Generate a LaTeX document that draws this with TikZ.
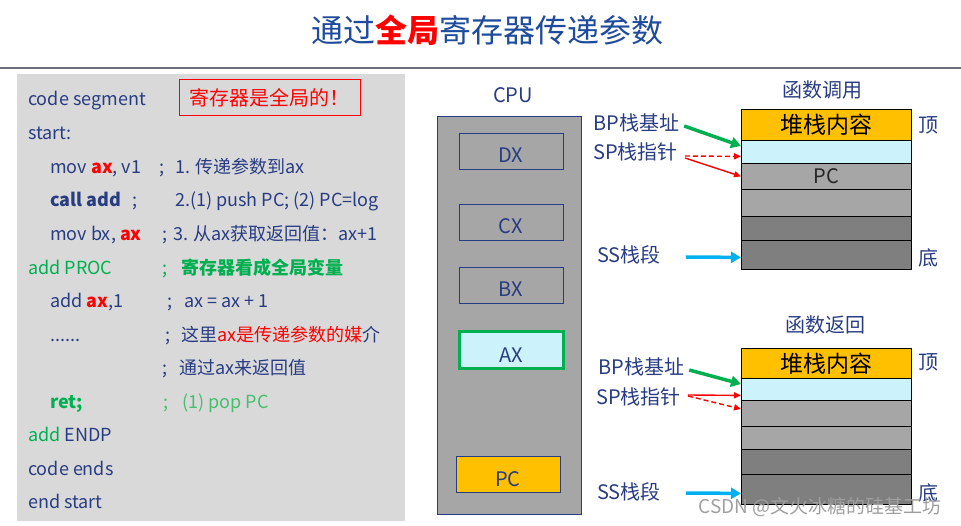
\documentclass[tikz,border=0pt]{standalone}
\usepackage{fontspec}
\setmainfont{Noto Sans CJK SC}
\usetikzlibrary{arrows.meta,positioning}

\definecolor{txtblue}{RGB}{40,60,130}
\definecolor{ttlblue}{RGB}{30,75,155}
\definecolor{okgreen}{RGB}{0,176,80}
\definecolor{ltgreen}{RGB}{70,190,110}
\definecolor{panelgray}{RGB}{217,217,217}
\definecolor{midgray}{RGB}{166,166,166}
\definecolor{darkgray}{RGB}{127,127,127}
\definecolor{pcorange}{RGB}{255,192,0}
\definecolor{axcyan}{RGB}{204,242,252}
\definecolor{arrowblue}{RGB}{0,176,240}
\definecolor{rulegray}{RGB}{107,112,122}

\tikzset{
  codeline/.style={anchor=west, inner sep=0pt, text=txtblue,
    font=\fontsize{18}{20}\selectfont, text height=13pt, text depth=4pt},
  regbox/.style={draw=txtblue, line width=0.8pt, minimum width=104pt,
    minimum height=36pt, inner sep=0pt, text=txtblue,
    font=\fontsize{20}{22}\selectfont, text height=24pt, text depth=0pt},
  stackrow/.style={draw=black, line width=0.8pt, anchor=north west,
    minimum width=170pt, inner sep=0pt, font=\fontsize{20}{22}\selectfont},
  ptrlabel/.style={anchor=west, inner sep=0pt, text=txtblue,
    font=\fontsize{20}{22}\selectfont},
  bigarrow/.style={line width=3.5pt, -{Triangle[length=10pt,width=11pt]}},
  thinarrow/.style={line width=1.4pt, red, -{Triangle[length=7pt,width=6pt]}},
  dasharrow/.style={thinarrow, dash pattern=on 5pt off 3pt},
}

\begin{document}
\begin{tikzpicture}[x=1pt,y=-1pt]
\useasboundingbox (0,0) rectangle (961,526);

% Title and rule
\node[text=ttlblue, font=\fontsize{32}{36}\selectfont] (title) at (487,30)
  {通过{\color{red}\bfseries 全局}寄存器传递参数};
\draw[rulegray, line width=1.5pt] (0,68) -- (961,68);

% Code panel
\fill[panelgray] (17,74) rectangle (405,521);
\node[draw=red, line width=1pt, text=red, minimum width=181pt, minimum height=36pt,
      font=\fontsize{20}{22}\selectfont] (note) at (269.5,98) {寄存器是全局的！};

\node[codeline] (c1) at (28,101) {code segment};
\node[codeline] (c2) at (28,135) {start:};
\node[codeline] (c3) at (50,169) {mov {\color{red}\bfseries ax}, v1};
\node[codeline] (m3) at (159,169) {;\hspace{11pt}1. 传递参数到ax};
\node[codeline, font=\fontsize{18}{20}\selectfont\bfseries] (c4) at (50,202) {call add};
\node[codeline] (m4) at (132,202) {;\hspace{38pt}2.(1) push PC; (2) PC=log};
\node[codeline] (c5) at (50,236) {mov bx, {\color{red}\bfseries ax}};
\node[codeline] (m5) at (162,236) {;\hspace{6pt}3. 从ax获取返回值：ax+1};
\node[codeline, text=okgreen] (c6) at (28,270) {add PROC};
\node[codeline, text=okgreen] (m6) at (162,270) {;\hspace{14pt}\bfseries 寄存器看成全局变量};
\node[codeline] (c7) at (50,303) {add {\color{red}\bfseries ax},1};
\node[codeline] (m7) at (167,303) {;\hspace{12pt}ax = ax + 1};
\node[codeline] (c8) at (50,337) {......};
\node[codeline] (m8) at (165,337) {;\hspace{11pt}这里{\color{red}ax是传递参数的媒}介};
\node[codeline] (m9) at (162,370) {;\hspace{12pt}通过ax来返回值};
\node[codeline, text=okgreen, font=\fontsize{18}{20}\selectfont\bfseries] (c10) at (50,404) {ret;};
\node[codeline, text=ltgreen] (m10) at (163,404) {;\hspace{14pt}(1) pop PC};
\node[codeline] (c11) at (28,437) {{\color{okgreen}add} ENDP};
\node[codeline] (c12) at (28,471) {code ends};
\node[codeline] (c13) at (28,504) {end start};

% CPU with its registers
\node[text=txtblue, font=\fontsize{20}{22}\selectfont] (cpulbl) at (513,95) {CPU};
\node[draw=txtblue, line width=1pt, fill=midgray, minimum width=144pt,
      minimum height=397pt, inner sep=0pt] (cpu) at (509,315.5) {};
\node[regbox] (dx) at (511,151) {DX};
\node[regbox] (cx) at (511,222) {CX};
\node[regbox] (bx) at (511,285) {BX};
\node[regbox, fill=axcyan, draw=okgreen, line width=3pt, minimum height=37pt] (ax) at (511,350.5) {AX};
\node[regbox, fill=pcorange] (pc) at (508,474) {PC};

% Stack at function call
\node[text=txtblue, font=\fontsize{20}{22}\selectfont] (callttl) at (822,90) {函数调用};
\node[stackrow, fill=pcorange, minimum height=31pt, font=\fontsize{23}{25}\selectfont] (rA1) at (741,109) {堆栈内容};
\node[stackrow, fill=axcyan, minimum height=23pt] (rA2) at (741,140) {};
\node[stackrow, fill=midgray, minimum height=26pt, text=black!85] (rA3) at (741,163) {PC};
\node[stackrow, fill=midgray, minimum height=27pt] (rA4) at (741,189) {};
\node[stackrow, fill=darkgray, minimum height=24pt] (rA5) at (741,216) {};
\node[stackrow, fill=darkgray, minimum height=29pt] (rA6) at (741,240) {};
\node[ptrlabel] (topA) at (918,125) {顶};
\node[ptrlabel] (botA) at (918,258) {底};

\node[ptrlabel] (bpA) at (593,123) {BP栈基址};
\node[ptrlabel] (spA) at (593,152) {SP栈指针};
\node[ptrlabel] (ssA) at (597,255) {SS栈段};
\draw[bigarrow, okgreen] ([xshift=5pt,yshift=-3pt]bpA.east) -- ([yshift=-6pt]rA2.north west);
\draw[dasharrow] ([xshift=7pt,yshift=-4pt]spA.east) -- ([yshift=-4.5pt]rA2.west);
\draw[thinarrow] ([xshift=7pt,yshift=-6pt]spA.east) -- (rA3.west);
\draw[bigarrow, arrowblue] ([xshift=25pt,yshift=-2pt]ssA.east) -- ([yshift=-2.5pt]rA6.west);

% Stack at function return
\node[text=txtblue, font=\fontsize{20}{22}\selectfont] (retttl) at (825,325) {函数返回};
\node[stackrow, fill=pcorange, minimum height=30pt, font=\fontsize{23}{25}\selectfont] (rB1) at (741,348) {堆栈内容};
\node[stackrow, fill=axcyan, minimum height=22pt] (rB2) at (741,378) {};
\node[stackrow, fill=midgray, minimum height=26pt] (rB3) at (741,400) {};
\node[stackrow, fill=midgray, minimum height=23pt] (rB4) at (741,426) {};
\node[stackrow, fill=darkgray, minimum height=25pt] (rB5) at (741,449) {};
\node[stackrow, fill=darkgray, minimum height=30pt] (rB6) at (741,474) {};
\node[ptrlabel] (topB) at (918,362) {顶};
\node[ptrlabel] (botB) at (918,493) {底};

\node[ptrlabel] (bpB) at (598,367) {BP栈基址};
\node[ptrlabel] (spB) at (596,397) {SP栈指针};
\node[ptrlabel] (ssB) at (597,492) {SS栈段};
\draw[bigarrow, okgreen] ([xshift=5pt,yshift=-3pt]bpB.east) -- ([yshift=-6pt]rB2.north west);
\draw[thinarrow] ([xshift=7pt,yshift=2pt]spB.east) -- ([yshift=-6pt]rB2.west);
\draw[dasharrow] ([xshift=7pt,yshift=1pt]spB.east) -- ([yshift=-9pt]rB3.north west);
\draw[bigarrow, arrowblue] ([xshift=25pt,yshift=-1pt]ssB.east) -- ([yshift=-4pt]rB6.west);

% Watermark
\node[text=gray!75, font=\fontsize{19}{21}\selectfont] (mark) at (820,507) {CSDN @文火冰糖的硅基工坊};

\end{tikzpicture}
\end{document}
